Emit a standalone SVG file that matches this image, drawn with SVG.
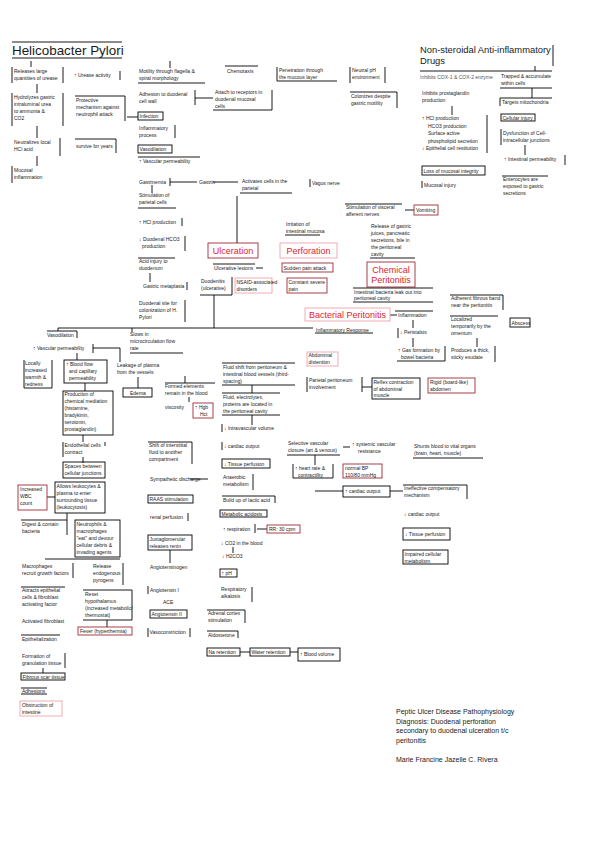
<svg xmlns="http://www.w3.org/2000/svg" width="595" height="842" viewBox="0 0 595 842">
<style>
text{font-family:"Liberation Sans",Arial,sans-serif;fill:#1a1a1a}
.s{font-size:5px}
.ti{font-size:13.4px}
.nd{font-size:9.4px}
.hd{font-size:9px;fill:#e21b2d}
.cap{font-size:7px}
.b{fill:none;stroke:#000;stroke-width:0.9}
.r{fill:none;stroke:#9e2a38;stroke-width:0.9}
.p{fill:none;stroke:#f0a3ad;stroke-width:0.9}
.c{fill:none;stroke:#000;stroke-width:0.9}
.g{fill:#555}
</style>
<rect width="595" height="842" fill="#fff"/>

<g id="connectors">
<path class="c" d="M31 61V67M37 84V93M37 126V138M37 156V166M127 117H138M170 61V68M195 98H213M170 182H197M213 182H238M237 196V243M152 185V193M150 273V282M256 268H263M214 295V328M58 328H313M58 328V331M132 328V332M93 348H120V362M77 353V360M85 383V391M138 377V388M185 376V383M189 397V402M83 435V442M83 457V463M47 497H55M67 513V520M45 559H120M107 620V627M43 668V673M170 550V563M190 479H208M252 385V393M252 415V425M257 529H267M233 547V553M240 652H250M290 652H298M343 447H350M315 455V465M315 491H343M390 491H403M362 387H372M390 315H397M413 320V328M413 338V347M477 338V347M405 210H414M535 66V71M420 71H552M452 106V115M532 88V98M525 145V155"/>
</g>

<g id="hp_title"><path class="b" d="M12 42H122M12 58H122"/><text class="ti" x="12" y="55">Helicobacter Pylori</text></g>
<g id="n1"><path class="b" d="M12 67V83M63 67V83"/><text class="s" x="14" y="73">Releases large<tspan x="14" dy="7">quantities of urease</tspan></text></g>
<g id="n2"><path class="b" d="M12 93V126M63 93V126"/><text class="s" x="14" y="99">Hydrolyzes gastric<tspan x="14" dy="7">intraluminal urea</tspan><tspan x="14" dy="7">to ammonia &amp;</tspan><tspan x="14" dy="7">CO2</tspan></text></g>
<g id="n3"><path class="b" d="M60 138V156"/><text class="s" x="14" y="144">Neutralizes local<tspan x="14" dy="7">HCl acid</tspan></text></g>
<g id="n4"><path class="b" d="M12 166V183"/><text class="s" x="14" y="172">Mucosal<tspan x="14" dy="7">inflammation</tspan></text></g>
<g id="n5"><path class="b" d="M120 71V80"/><text class="s" x="74" y="77">↑ Urease activity</text></g>
<g id="n6"><path class="b" d="M75 96H125V121"/><text class="s" x="76" y="102">Protective<tspan x="76" dy="7">mechanism against</tspan><tspan x="76" dy="7">neutrophil attack</tspan></text></g>
<g id="n7"><path class="b" d="M75 139H116V153"/><text class="s" x="76" y="148">survive for years</text></g>

<g id="n8"><path class="b" d="M138 83H205"/><text class="s" x="139" y="73">Motility through flagella &amp;<tspan x="139" dy="7">spiral morphology</tspan></text></g>
<g id="n9"><path class="b" d="M195 90V105"/><text class="s" x="139" y="96">Adhesion to duodenal<tspan x="139" dy="7">cell wall</tspan></text></g>
<g id="n10"><path class="b" d="M213 110H272V90"/><text class="s" x="215" y="94">Attach to receptors in<tspan x="215" dy="7">duodenal mucosal</tspan><tspan x="215" dy="7">cells</tspan></text></g>
<g id="n11"><rect class="b" x="138" y="112" width="25" height="8"/><text class="s" x="139.5" y="118">Infection</text></g>
<g id="n12"><path class="b" d="M175 125V138"/><text class="s" x="139" y="130">Inflammatory<tspan x="139" dy="6.5">process</tspan></text></g>
<g id="n13"><rect class="b" x="138" y="145" width="34" height="8"/><text class="s" x="139.5" y="151">Vasodilation</text></g>
<g id="n14"><path class="b" d="M138 157H200"/><text class="s" x="139" y="163">↑ Vascular permeability</text></g>
<g id="n15"><path class="b" d="M170 178V186"/><text class="s" x="139" y="184">Gastrinemia</text></g>
<g id="n16"><text class="s" x="199" y="184">Gastrin</text></g>
<g id="n17"><path class="b" d="M240 193H292"/><text class="s" x="242" y="183">Activates cells in the<tspan x="242" dy="7">parietal</tspan></text></g>
<g id="n18"><path class="b" d="M138 208H176"/><text class="s" x="139" y="197">Stimulation of<tspan x="139" dy="7">parietal cells</tspan></text></g>
<g id="n19"><path class="b" d="M182 218V226"/><text class="s" x="139" y="224">↑ HCl production</text></g>
<g id="n20"><path class="b" d="M185 236V251"/><text class="s" x="139" y="241">↓ Duodenal HCO3<tspan x="142" dy="7">production</tspan></text></g>
<g id="n21"><path class="b" d="M138 258H175"/><text class="s" x="139" y="263">Acid injury to<tspan x="139" dy="6.5">duodenum</tspan></text></g>
<g id="n22"><path class="b" d="M187 282V290"/><text class="s" x="143" y="288">Gastric metaplasia</text></g>
<g id="n23"><path class="b" d="M185 300V322"/><text class="s" x="139" y="305">Duodenal site for<tspan x="139" dy="7">colonization of H.</tspan><tspan x="139" dy="7">Pylori</tspan></text></g>

<g id="n24"><path class="b" d="M47 331H77V338"/><text class="s" x="47" y="337">Vasodilation</text></g>
<g id="n25"><path class="b" d="M130 353H183"/><text class="s" x="130" y="336">Slows in<tspan x="130" dy="7">microcirculation flow</tspan><tspan x="130" dy="7">rate</tspan></text></g>
<g id="n26"><path class="b" d="M93 344V353"/><text class="s" x="33" y="350">↑ Vascular permeability</text></g>
<g id="n27"><path class="b" d="M24 360V388H52V360"/><text class="s" x="25" y="365">Locally<tspan x="25" dy="7">increased</tspan><tspan x="25" dy="7">warmth &amp;</tspan><tspan x="25" dy="7">redness</tspan></text></g>
<g id="n28"><rect class="b" x="64" y="360" width="43" height="23"/><text class="s" x="66" y="366">↑ Blood flow<tspan x="69" dy="7">and capillary</tspan><tspan x="69" dy="7">permeability</tspan></text></g>
<g id="n29"><text class="s" x="117" y="367">Leakage of plasma<tspan x="117" dy="7">from the vessels</tspan></text></g>
<g id="n30"><rect class="b" x="123" y="388" width="29" height="9"/><text class="s" x="130" y="394.5">Edema</text></g>
<g id="n31"><rect class="b" x="63" y="391" width="50" height="44"/><text class="s" x="64.5" y="396">Production of<tspan x="64.5" dy="7">chemical mediation</tspan><tspan x="64.5" dy="7">(histamine,</tspan><tspan x="64.5" dy="7">bradykinin,</tspan><tspan x="64.5" dy="7">serotonin,</tspan><tspan x="64.5" dy="7">prostaglandin)</tspan></text></g>
<g id="n32"><path class="b" d="M165 383H215"/><text class="s" x="165" y="388">Formed elements<tspan x="165" dy="7">remain in the blood</tspan></text></g>
<g id="n33"><text class="s" x="165" y="409">viscosity</text></g>
<g id="n34"><rect class="r" x="193" y="403" width="20" height="15"/><text class="s" x="195" y="409">↑ Hgb<tspan x="200" dy="7">Hct</tspan></text></g>

<g id="n35"><path class="b" d="M63 442V457M105 442V446"/><text class="s" x="64.5" y="447">Endothelial cells<tspan x="64.5" dy="7">contract</tspan></text></g>
<g id="n36"><rect class="b" x="63" y="462" width="42" height="16"/><text class="s" x="64.5" y="468">Spaces between<tspan x="64.5" dy="7">cellular junctions</tspan></text></g>
<g id="n37"><rect class="b" x="55" y="482" width="50" height="31"/><text class="s" x="56.5" y="488">Allows leukocytes &amp;<tspan x="56.5" dy="7">plasma to enter</tspan><tspan x="56.5" dy="7">surrounding tissue</tspan><tspan x="56.5" dy="7">(leukocytosis)</tspan></text></g>
<g id="n38"><rect class="r" x="18" y="485" width="29" height="25"/><text class="s" x="20" y="491">Increased<tspan x="20" dy="7">WBC</tspan><tspan x="20" dy="7">count</tspan></text></g>
<g id="n39"><path class="b" d="M21 520H67V535"/><text class="s" x="22" y="526">Digest &amp; contain<tspan x="22" dy="7">bacteria</tspan></text></g>
<g id="n40"><rect class="b" x="75" y="520" width="45" height="37"/><text class="s" x="76.5" y="526">Neutrophils &amp;<tspan x="76.5" dy="7">macrophages</tspan><tspan x="76.5" dy="7">"eat" and devour</tspan><tspan x="76.5" dy="7">cellular debris &amp;</tspan><tspan x="76.5" dy="7">invading agents</tspan></text></g>
<g id="n41"><path class="b" d="M73 563V578"/><text class="s" x="22" y="568">Macrophages<tspan x="22" dy="7">recruit growth factors</tspan></text></g>
<g id="n42"><path class="b" d="M123 563V585"/><text class="s" x="93" y="568">Release<tspan x="93" dy="7">endogenous</tspan><tspan x="93" dy="7">pyrogens</tspan></text></g>
<g id="n43"><path class="b" d="M21 587H65"/><text class="s" x="22" y="592">Attracts epithelial<tspan x="22" dy="7">cells &amp; fibroblast</tspan><tspan x="22" dy="7">activating factor</tspan></text></g>
<g id="n44"><path class="b" d="M83 590H132V620H83"/><text class="s" x="85" y="596">Reset<tspan x="85" dy="7">hypothalamus</tspan><tspan x="85" dy="7">(increased metabolic/</tspan><tspan x="85" dy="7">thermostat)</tspan></text></g>
<g id="n45"><rect class="r" x="78" y="627" width="54" height="8"/><text class="s" x="80" y="633">Fever (hyperthermia)</text></g>
<g id="n46"><text class="s" x="22" y="623">Activated fibroblast</text></g>
<g id="n47"><path class="b" d="M21 635H60"/><text class="s" x="22" y="641">Epithelialization</text></g>
<g id="n48"><path class="b" d="M65 653V668"/><text class="s" x="22" y="658">Formation of<tspan x="22" dy="7">granulation tissue</tspan></text></g>
<g id="n49"><rect class="b" x="21" y="673" width="44" height="7"/><text class="s" x="22.5" y="678.7">Fibrous scar tissue</text></g>
<g id="n50"><path class="b" d="M21 688H47M21 694H47"/><text class="s" x="22" y="692.5">Adhesions</text></g>
<g id="n51"><rect class="p" x="20" y="701" width="42" height="15"/><text class="s" x="22" y="707">Obstruction of<tspan x="22" dy="7">intestine</tspan></text></g>

<g id="n52"><path class="b" d="M148 442H192V464"/><text class="s" x="149" y="447">Shift of interstitial<tspan x="149" dy="7">fluid to another</tspan><tspan x="149" dy="7">compartment</tspan></text></g>
<g id="n53"><text class="s" x="150" y="481">Sympathetic discharge</text></g>
<g id="n54"><rect class="b" x="148" y="495" width="45" height="8"/><text class="s" x="149.5" y="501">RAAS stimulation</text></g>
<g id="n55"><path class="b" d="M188 513V521"/><text class="s" x="150" y="519">renal perfusion</text></g>
<g id="n56"><rect class="b" x="148" y="535" width="44" height="15"/><text class="s" x="149.5" y="541">Juxtaglomerular<tspan x="149.5" dy="7">releases renin</tspan></text></g>
<g id="n57"><text class="s" x="150" y="569">Angiotensinogen</text></g>
<g id="n58"><path class="b" d="M148 586V594"/><text class="s" x="150" y="592">Angiotensin I</text></g>
<g id="n59"><text class="s" x="163" y="604">ACE</text></g>
<g id="n60"><rect class="b" x="150" y="610" width="37" height="8"/><text class="s" x="151.5" y="616">Angiotensin II</text></g>
<g id="n61"><path class="b" d="M148 628V637M190 628V637"/><text class="s" x="149.5" y="634">Vasoconstriction</text></g>

<g id="n62"><path class="b" d="M222 363H295M222 385H295"/><text class="s" x="223" y="369">Fluid shift from peritoneum &amp;<tspan x="223" dy="7">intestinal blood vessels (third-</tspan><tspan x="223" dy="6.5">spacing)</tspan></text></g>
<g id="n63"><path class="b" d="M222 393H280M222 415H280"/><text class="s" x="223" y="398.5">Fluid, electrolytes,<tspan x="223" dy="7">proteins are located in</tspan><tspan x="223" dy="7">the peritoneal cavity</tspan></text></g>
<g id="n64"><path class="b" d="M222 424V432"/><text class="s" x="224" y="430">↓ Intravascular volume</text></g>
<g id="n65"><path class="b" d="M222 442V450"/><text class="s" x="224" y="448">↓ cardiac output</text></g>
<g id="n66"><rect class="b" x="222" y="459" width="48" height="9"/><text class="s" x="224" y="465.5">↓ Tissue perfusion</text></g>
<g id="n67"><path class="b" d="M253 474V490"/><text class="s" x="223" y="479">Anaerobic<tspan x="223" dy="7">metabolism</tspan></text></g>
<g id="n68"><path class="b" d="M222 496H275V503"/><text class="s" x="223" y="502">Build up of lactic acid</text></g>
<g id="n69"><rect class="b" x="220" y="510" width="47" height="7"/><text class="s" x="221.5" y="515.8">Metabolic acidosis</text></g>
<g id="n70"><path class="b" d="M255 524V533"/><text class="s" x="223" y="531">↑ respiration</text></g>
<g id="n71"><rect class="r" x="267" y="525" width="33" height="8"/><text class="s" x="269" y="531">RR: 30 cpm</text></g>
<g id="n72"><text class="s" x="221" y="545">↓ CO2 in the blood</text></g>
<g id="n73"><text class="s" x="222" y="558">↓ H2CO3</text></g>
<g id="n74"><rect class="b" x="220" y="569" width="17" height="8"/><text class="s" x="221.5" y="575">↑ pH</text></g>
<g id="n75"><path class="b" d="M252 587V602"/><text class="s" x="221" y="591">Respiratory<tspan x="221" dy="7">alkalosis</tspan></text></g>
<g id="n76"><path class="b" d="M207 610H245V623"/><text class="s" x="208" y="615">Adrenal cortex<tspan x="208" dy="6.5">stimulation</tspan></text></g>
<g id="n77"><path class="b" d="M207 631H238V638"/><text class="s" x="208" y="637">Aldosterone</text></g>
<g id="n78"><rect class="b" x="207" y="648" width="33" height="8"/><text class="s" x="208.5" y="654">Na retention</text></g>
<g id="n79"><rect class="b" x="250" y="648" width="40" height="8"/><text class="s" x="251.5" y="654">Water retention</text></g>
<g id="n80"><rect class="b" x="298" y="648" width="42" height="13"/><text class="s" x="300" y="656">↑ Blood volume</text></g>

<g id="n81"><path class="b" d="M287 455H340"/><text class="s" x="288" y="445">Selective vascular<tspan x="288" dy="7">closure (art &amp; venous)</tspan></text></g>
<g id="n82"><text class="s" x="352" y="446">↑ systemic vascular<tspan x="358" dy="7">resistance</tspan></text></g>
<g id="n83"><path class="b" d="M413 458H483"/><text class="s" x="414" y="448">Shunts blood to vital organs<tspan x="414" dy="7">(brain, heart, muscle)</tspan></text></g>
<g id="n84"><path class="b" d="M293 464V478H333V464"/><text class="s" x="295" y="470">↑ heart rate &amp;<tspan x="298" dy="6.5">contractility</tspan></text></g>
<g id="n85"><rect class="r" x="343" y="464" width="39" height="14"/><text class="s" x="345" y="470">normal BP<tspan x="345" dy="6.5">110/80 mmHg</tspan></text></g>
<g id="n86"><rect class="b" x="343" y="486" width="47" height="11"/><text class="s" x="345" y="493">↑ cardiac output</text></g>
<g id="n87"><path class="b" d="M403 485H467V499"/><text class="s" x="404" y="490">Ineffective compensatory<tspan x="404" dy="7">mechanism</tspan></text></g>
<g id="n88"><text class="s" x="404" y="516">↓ cardiac output</text></g>
<g id="n89"><rect class="b" x="403" y="528" width="47" height="12"/><text class="s" x="405" y="536">↓ Tissue perfusion</text></g>
<g id="n90"><rect class="b" x="403" y="550" width="45" height="14"/><text class="s" x="404.5" y="555.5">Impaired cellular<tspan x="404.5" dy="7">metabolism</tspan></text></g>

<g id="n91"><rect class="p" x="307" y="352" width="31" height="14"/><text class="s" x="308.5" y="357">Abdominal<tspan x="308.5" dy="7">distention</tspan></text></g>
<g id="n92"><path class="b" d="M307 377V392M362 377V392"/><text class="s" x="309" y="382">Parietal peritoneum<tspan x="309" dy="7">involvement</tspan></text></g>
<g id="n93"><rect class="b" x="372" y="378" width="48" height="21"/><text class="s" x="373.5" y="384">Reflex contraction<tspan x="373.5" dy="6.5">of abdominal</tspan><tspan x="373.5" dy="6.5">muscle</tspan></text></g>
<g id="n94"><rect class="r" x="428" y="378" width="47" height="15"/><text class="s" x="430" y="384">Rigid (board-like)<tspan x="430" dy="7">abdomen</tspan></text></g>

<g id="n95"><rect class="r" x="208" y="243" width="50" height="15"/><text class="hd" x="233" y="254" text-anchor="middle">Ulceration</text></g>
<g id="n96"><path class="b" d="M213 264H255"/><text class="s" x="214" y="270">Ulcerative lesions</text></g>
<g id="n97"><path class="b" d="M200 295H232V277"/><text class="s" x="201" y="283">Duodenitis<tspan x="201" dy="7">(ulcerative)</tspan></text></g>
<g id="n98"><rect class="p" x="235" y="278" width="37" height="15"/><text class="s" x="236.5" y="284">NSAID-associated<tspan x="236.5" dy="6.5">disorders</tspan></text></g>
<g id="n99"><rect class="p" x="280" y="243" width="57" height="15"/><text class="hd" x="308.5" y="254" text-anchor="middle">Perforation</text></g>
<g id="n100"><rect class="r" x="282" y="263" width="51" height="9"/><text class="s" x="283.5" y="269.5">Sudden pain attack</text></g>
<g id="n101"><rect class="r" x="287" y="278" width="40" height="15"/><text class="s" x="288.5" y="284">Constant severe<tspan x="288.5" dy="6.5">pain</tspan></text></g>
<g id="n102"><path class="b" d="M285 235H320"/><text class="s" x="286" y="226">Irritation of<tspan x="286" dy="6.5">intestinal mucosa</tspan></text></g>
<g id="n103"><path class="b" d="M370 258H415"/><text class="s" x="371" y="228">Release of gastric<tspan x="371" dy="7">juices, pancreatic</tspan><tspan x="371" dy="7">secretions, bile in</tspan><tspan x="371" dy="7">the peritoneal</tspan><tspan x="371" dy="7">cavity</tspan></text></g>
<g id="n104"><path class="b" d="M345 204H402"/><text class="s" x="346" y="209">Stimulation of visceral<tspan x="346" dy="7">afferent nerves</tspan></text></g>
<g id="n105"><rect class="r" x="414" y="205" width="24" height="10"/><text class="s" x="416" y="212">Vomiting</text></g>
<g id="n106"><path class="b" d="M310 179V187"/><text class="s" x="312" y="185">Vagus nerve</text></g>
<g id="n107"><rect class="r" x="367" y="262" width="48" height="25"/><text class="hd" x="391" y="273" text-anchor="middle">Chemical<tspan x="391" dy="10">Peritonitis</tspan></text></g>
<g id="n108"><path class="b" d="M353 288H433M353 302H433"/><text class="s" x="354" y="293.5">Intestinal bacteria leak out into<tspan x="354" dy="6.5">peritoneal cavity</tspan></text></g>
<g id="n109"><rect class="p" x="305" y="308" width="85" height="13"/><text class="hd" x="347.5" y="318" text-anchor="middle">Bacterial Peritonitis</text></g>
<g id="n110"><path class="b" d="M395 311H433"/><text class="s" x="398" y="317">Inflammation</text></g>
<g id="n111"><path class="b" d="M398 328V338"/><text class="s" x="400" y="334">↓ Peristalsis</text></g>
<g id="n112"><path class="b" d="M397 361H445V346"/><text class="s" x="398" y="352">↑ Gas formation by<tspan x="401" dy="6.5">bowel bacteria</tspan></text></g>
<g id="n113"><path class="b" d="M450 295H503V310"/><text class="s" x="451" y="300">Adherent fibrous band<tspan x="451" dy="7">near the peritonitis</tspan></text></g>
<g id="n114"><path class="b" d="M450 316H498"/><text class="s" x="451" y="321">Localized<tspan x="451" dy="7">temporarily by the</tspan><tspan x="451" dy="7">omentum</tspan></text></g>
<g id="n115"><rect class="b" x="510" y="318" width="20" height="9"/><text class="s" x="511.5" y="324.5">Abscess</text></g>
<g id="n116"><path class="b" d="M495 346V362"/><text class="s" x="451" y="352">Produces a thick,<tspan x="451" dy="7">sticky exudate</tspan></text></g>
<g id="n117"><path class="b" d="M315 333H373"/><text class="s" x="316" y="331.5">Inflammatory Response</text></g>

<g id="nsaid_title"><path class="b" d="M553 45V66"/><text class="nd" x="420" y="53">Non-steroidal Anti-inflammatory<tspan x="420" dy="11">Drugs</tspan></text></g>
<g id="n119"><text class="s g" x="420" y="79">Inhibits COX-1 &amp; COX-2 enzyme</text></g>
<g id="n120"><text class="s" x="422" y="95">Inhibits prostaglandin<tspan x="422" dy="7">production</tspan></text></g>
<g id="n121"><path class="b" d="M487 115V153"/><text class="s" x="422" y="120">↑ HCl production<tspan x="428" dy="7.5">HCO3 production</tspan><tspan x="428" dy="7.5">Surface active</tspan><tspan x="428" dy="7.5">phospholipid secretion</tspan><tspan x="422" dy="7.5">↓ Epithelial cell restitution</tspan></text></g>
<g id="n122"><rect class="b" x="422" y="166" width="63" height="9"/><text class="s" x="423.5" y="172.5">Loss of mucosal integrity</text></g>
<g id="n123"><path class="b" d="M422 181V188"/><text class="s" x="424" y="186.5">Mucosal injury</text></g>
<g id="n124"><path class="b" d="M500 88H552"/><text class="s" x="501" y="78">Trapped &amp; accumulate<tspan x="501" dy="7">within cells</tspan></text></g>
<g id="n125"><path class="b" d="M500 98H552M500 98V106"/><text class="s" x="502" y="104">Targets mitochondria</text></g>
<g id="n126"><rect class="b" x="501" y="114" width="34" height="7"/><text class="s" x="502.5" y="120">Cellular injury</text></g>
<g id="n127"><path class="b" d="M501 129V145"/><text class="s" x="503" y="135">Dysfunction of Cell-<tspan x="503" dy="7">intracellular junctions</tspan></text></g>
<g id="n128"><path class="b" d="M565 155V165"/><text class="s" x="504" y="161">↑ Intestinal permeability</text></g>
<g id="n129"><path class="b" d="M502 176H548"/><text class="s" x="503" y="181">Enterocytes are<tspan x="503" dy="7">exposed to gastric</tspan><tspan x="503" dy="7">secretions</tspan></text></g>

<g id="n130"><path class="b" d="M225 66H258"/><text class="s" x="227" y="72.5">Chemotaxis</text></g>
<g id="n131"><path class="b" d="M277 67V81H337"/><text class="s" x="279" y="72">Penetration through<tspan x="279" dy="7">the mucous layer</tspan></text></g>
<g id="n132"><path class="b" d="M350 67V83M385 67V83"/><text class="s" x="352" y="72">Neutral pH<tspan x="352" dy="7">environment</tspan></text></g>
<g id="n133"><path class="b" d="M350 92H397V108"/><text class="s" x="351" y="98">Colonizes despite<tspan x="351" dy="7">gastric motility</tspan></text></g>

<g id="caption"><text class="cap" x="396" y="714">Peptic Ulcer Disease Pathophysiology<tspan x="396" dy="9.5">Diagnosis: Duodenal perforation</tspan><tspan x="396" dy="9.5">secondary to duodenal ulceration t/c</tspan><tspan x="396" dy="9.5">peritonitis</tspan><tspan x="396" dy="19">Marie Francine Jazelle C. Rivera</tspan></text></g>
</svg>
